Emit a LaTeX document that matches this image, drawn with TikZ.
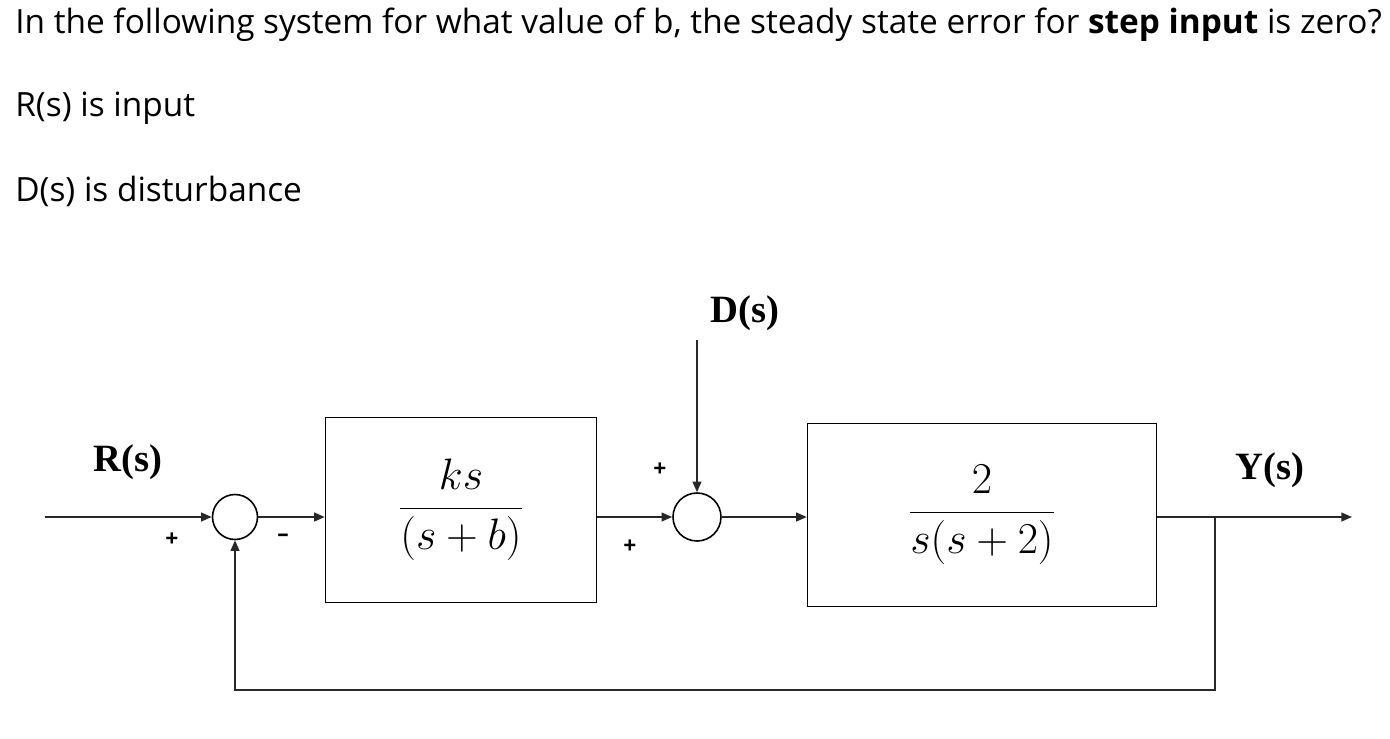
\documentclass[tikz,border=0pt]{standalone}
\usepackage{amsmath}
\usepackage{fontspec}
\setmainfont{Open Sans}
\newfontfamily\blockfont{Liberation Serif}
\usetikzlibrary{arrows.meta, positioning, calc}
\definecolor{linegray}{RGB}{40,40,40}

\tikzset{
  sig/.style={-{Triangle[length=6pt,width=5pt]},line width=0.9pt,linegray},
  wire/.style={line width=0.9pt,linegray},
  blockbox/.style={draw,line width=0.9pt,minimum width=5.42cm,minimum height=3.7cm,inner sep=0pt},
  sumnode/.style={draw,circle,line width=0.9pt,minimum size=0.9cm,inner sep=0pt},
  siglabel/.style={font=\blockfont\bfseries\fontsize{22}{22}\selectfont},
  signmark/.style={font=\bfseries\fontsize{13}{13}\selectfont},
  textline/.style={anchor=west,font=\fontsize{19}{22}\selectfont,inner sep=0pt}
}

\begin{document}
\begin{tikzpicture}[x=0.02cm,y=-0.02cm]
    \useasboundingbox (0,0) rectangle (1390,738);

    % Question text
    \node[textline] (q1) at (15,25) {In the following system for what value of b, the steady state error for \textbf{step input} is zero?};
    \node[textline] (q2) at (15,108) {R(s) is input};
    \node[textline] (q3) at (15,191) {D(s) is disturbance};

    % Blocks and summing points
    \node[sumnode] (sum1) at (235,517) {};
    \node[blockbox] (ctrl) at (461,510) {\scalebox{1.45}{\LARGE$\dfrac{ks}{(s+b)}$}};
    \node[sumnode,minimum size=0.96cm] (sum2) at (697,517) {};
    \node[blockbox,minimum width=6.98cm,minimum height=3.66cm] (plant) at (982,515) {\scalebox{1.45}{\LARGE$\dfrac{2}{s(s+2)}$}};

    % Signal ends
    \coordinate (rin) at (45,517);
    \coordinate (yout) at (1352,517);
    \coordinate (dtop) at (697,340);
    \coordinate (tap) at (1215,517);
    \coordinate (fbr) at (1215,690);
    \coordinate (fbl) at (235,690);

    % Labels
    \node[siglabel] (rlab) at (128,462) {R(s)};
    \node[siglabel] (ylab) at (1270,470) {Y(s)};
    \node[siglabel] (dlab) at (745,313) {D(s)};
    \node[signmark] (p1) at (172,540) {+};
    \node[signmark] (m1) at (283,538) {--};
    \node[signmark] (p2) at (660,470) {+};
    \node[signmark] (p3) at (630,547) {+};

    % Connections
    \draw[sig] (rin) -- (sum1.west);
    \draw[sig] (sum1.east) -- (ctrl.west |- sum1);
    \draw[sig] (ctrl.east |- sum2) -- (sum2.west);
    \draw[sig] (dtop) -- (sum2.north);
    \draw[sig] (sum2.east) -- (plant.west |- sum2);
    \draw[sig] (plant.east |- sum2) -- (yout);
    \draw[sig] (tap) -- (fbr) -- (fbl) -- (sum1.south);
\end{tikzpicture}
\end{document}
